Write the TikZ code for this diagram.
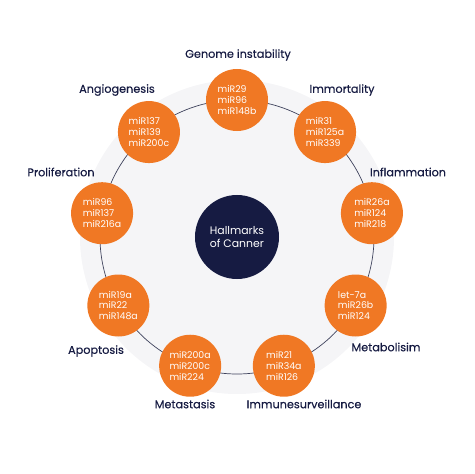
\documentclass[tikz,border=0pt]{standalone}
\usepackage{fontspec}
\setmainfont{Poppins}
\newfontfamily\medfont{Poppins}[FakeBold=0.35]
\usetikzlibrary{positioning}
\definecolor{hallnavy}{RGB}{22,27,66}
\definecolor{mirorange}{RGB}{240,120,36}
\definecolor{ringgray}{RGB}{62,66,92}
\definecolor{discgray}{RGB}{245,245,247}

\begin{document}
\begin{tikzpicture}[x=0.03cm, y=0.03cm,
  mirball/.style={circle, fill=mirorange, minimum size=1.86cm, inner sep=0pt, text=white, align=left, font=\fontsize{8}{9.2}\selectfont},
  hub/.style={circle, fill=hallnavy, minimum size=2.52cm, inner sep=0pt, text=white, align=center, font=\fontsize{9.3}{11.5}\selectfont},
  hallmark/.style={text=hallnavy, font=\medfont\fontsize{9.6}{11}\selectfont}]
  \useasboundingbox (-237,-237) rectangle (237,237);
  % background disc and ring
  \fill[discgray] (0,0) circle (157);
  \draw[ringgray, line width=0.6pt] (0,0) circle (137);
  \node[hub] (hub) at (0,0) {Hallmarks\\of Canner};
  % miRNA circles on the ring
  \foreach \name/\ang/\mirs in {
      genome/90/{miR29\\miR96\\miR148b},
      immort/50/{miR31\\miR125a\\miR339},
      inflam/10/{miR26a\\miR124\\miR218},
      metab/-30/{let-7a\\miR26b\\miR124},
      immune/-70/{miR21\\miR34a\\miR126},
      metas/-110/{miR200a\\miR200c\\miR224},
      apopt/-150/{miR19a\\miR22\\miR148a},
      prolif/170/{miR96\\miR137\\miR216a},
      angio/130/{miR137\\miR139\\miR200c}}
    \node[mirball] (\name) at (\ang:137) {\mirs};
  % hallmark labels
  \node[hallmark] (l-genome) at (1,182) {Genome instability};
  \node[hallmark] (l-immort) at (105,147) {Immortality};
  \node[hallmark] (l-inflam) at (171,65) {Inflammation};
  \node[hallmark] (l-metab) at (149,-110) {Metabolisim};
  \node[hallmark] (l-immune) at (67,-167) {Immunesurveillance};
  \node[hallmark] (l-metas) at (-52,-167) {Metastasis};
  \node[hallmark] (l-apopt) at (-141,-114) {Apoptosis};
  \node[hallmark] (l-prolif) at (-176,65) {Proliferation};
  \node[hallmark] (l-angio) at (-120,147) {Angiogenesis};
\end{tikzpicture}
\end{document}
